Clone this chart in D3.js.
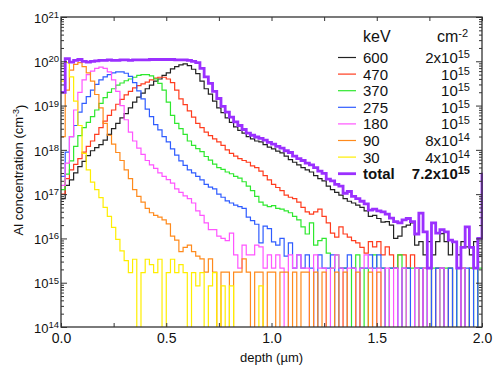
<!DOCTYPE html>
<html>
<head>
<meta charset="utf-8">
<script src="https://cdn.jsdelivr.net/npm/d3@7"></script>
<style>
  body { margin: 0; background: #fff; }
  text { font-family: "Liberation Sans", Arial, sans-serif; fill: #111; }
</style>
</head>
<body>
<svg id="chart" width="500" height="372"></svg>
<script>
// depth bins are 0.02 um wide, starting at 0; values are log10(concentration), 0 = no counts
var binWidth = 0.02;

var energies = ['600', '470', '370', '275', '180', '90', '30', 'total'];
var doseMant = ['2x', '', '', '', '', '8x', '4x', '7.2x'];
var doseExp = ['15', '15', '15', '15', '15', '14', '14', '15'];
var colors = ['#222222', '#ff3c1e', '#2ee82e', '#2f5cff', '#ff55ff', '#ff8a1c', '#ffee00', '#9b30ff'];

var s600 = [16.9,17.2,17.32,17.48,17.62,17.74,17.87,17.98,18.05,18.12,
  18.22,18.35,18.48,18.6,18.72,18.82,18.95,19.08,19.19,19.28,
  19.38,19.46,19.55,19.6,19.68,19.74,19.83,19.88,19.92,19.94,
  19.9,19.82,19.72,19.55,19.38,19.26,19.1,18.95,18.84,18.72,
  18.62,18.52,18.44,18.38,18.3,18.25,18.2,18.18,18.12,18.06,
  18.02,17.97,17.93,17.86,17.78,17.72,17.66,17.6,17.55,17.5,
  17.42,17.35,17.3,17.18,17.1,17.04,16.98,16.9,16.84,16.8,
  16.75,16.7,16.62,16.5,16.52,16.45,16.37,16.38,16.3,16.0,
  16.05,16.26,16.3,16.35,15.85,15.93,15.63,15.93,15.63,15.93,
  16.11,15.93,15.63,15.93,15.63,15.93,15.81,15.63,15.93,15.63];

var s470 = [17.0,17.35,17.55,17.67,17.8,17.95,18.08,18.2,18.35,18.5,
  18.65,18.78,18.9,19.03,19.14,19.24,19.32,19.4,19.45,19.49,
  19.53,19.58,19.62,19.64,19.64,19.6,19.52,19.35,19.15,19.02,
  18.88,18.74,18.6,18.5,18.4,18.32,18.25,18.18,18.1,18.0,
  17.92,17.86,17.8,17.76,17.72,17.64,17.6,17.52,17.42,17.32,
  17.22,17.15,17.08,16.98,16.93,16.9,16.82,16.7,16.6,16.55,
  16.6,16.66,16.5,16.35,16.12,16.03,16.26,16.1,16.03,15.95,
  15.9,15.8,15.67,15.93,15.81,15.93,15.63,15.81,15.63,15.33,
  15.63,15.63,15.33,15.63,15.33,0,15.33,15.33,0,15.33,
  15.33,0,15.33,0,0,15.33,0,15.33,15.33,0];

var s370 = [17.1,17.45,17.75,18.08,18.32,18.5,18.62,18.75,18.9,19.05,
  19.18,19.3,19.38,19.46,19.51,19.56,19.6,19.64,19.68,19.7,
  19.7,19.67,19.6,19.5,19.35,19.08,18.78,18.6,18.48,18.35,
  18.2,18.1,18.03,17.96,17.85,17.77,17.68,17.6,17.56,17.5,
  17.46,17.4,17.36,17.28,17.18,17.08,16.95,16.82,16.75,16.72,
  16.74,16.68,16.66,16.62,16.58,16.5,16.42,16.26,16.1,16.35,
  15.85,15.95,16.0,15.67,15.33,15.63,15.33,15.33,0,15.33,
  15.63,15.33,0,15.33,15.63,15.33,15.33,0,15.33,15.33,
  15.63,0,15.33,15.33,0,15.33,15.33,0,15.33,15.33,
  0,15.33,15.33,0,15.33,15.33,0,15.33,0,15.33];

var s275 = [17.4,17.95,18.3,18.55,18.85,19.05,19.2,19.35,19.48,19.58,
  19.65,19.7,19.74,19.76,19.76,19.73,19.66,19.52,19.33,19.15,
  18.92,18.75,18.57,18.45,18.3,18.18,18.02,17.88,17.75,17.65,
  17.55,17.48,17.4,17.32,17.22,17.16,17.12,17.0,16.93,16.85,
  16.8,16.75,16.72,16.68,16.48,16.4,16.32,15.9,16.28,16.22,
  15.92,15.85,16.0,15.6,15.9,15.33,15.63,15.33,15.63,15.33,
  0,15.63,15.33,15.33,15.63,0,15.33,15.33,15.63,15.33,
  0,15.33,15.33,15.63,15.33,15.63,15.33,0,15.33,15.33,
  0,15.33,15.33,0,15.33,15.33,0,15.33,0,15.33,
  15.33,0,15.33,0,15.33,0,15.33,0,15.33,0];

var s180 = [17.2,17.7,18.3,18.9,19.3,19.58,19.7,19.78,19.84,19.87,
  19.84,19.76,19.58,19.32,19.0,18.68,18.4,18.2,18.04,17.9,
  17.76,17.66,17.58,17.48,17.4,17.33,17.25,17.12,17.04,16.96,
  16.9,16.8,16.62,16.52,16.35,16.2,16.2,16.05,16.0,15.95,
  16.12,15.63,15.33,15.85,15.63,15.63,15.85,15.81,15.33,15.63,
  15.33,15.63,15.33,0,15.63,15.33,15.63,15.33,15.33,0,
  15.63,15.33,15.33,0,15.33,15.63,15.33,0,15.33,15.33,
  0,15.33,15.63,15.33,0,15.33,0,15.33,0,15.33,
  0,15.33,0,0,15.33,0,15.33,0,0,0,
  15.33,0,0,0,0,15.33,0,0,0,0];

var s90 = [18.3,19.35,19.8,19.93,19.97,19.88,19.74,19.55,19.25,18.95,
  18.6,18.33,18.13,17.94,17.76,17.55,17.35,17.1,16.95,16.82,
  16.68,16.58,16.52,16.48,16.42,16.33,16.05,15.96,15.7,15.8,
  15.85,15.7,15.6,15.54,15.24,15.54,15.24,0,15.24,15.24,
  0,15.24,15.24,15.54,15.24,0,15.24,15.24,0,15.24,
  15.24,0,15.24,15.24,0,15.24,0,15.24,15.24,0,
  15.24,0,15.24,0,0,15.24,0,15.24,0,0,
  15.24,0,0,15.24,0,15.24,0,0,0,0,
  0,0,0,0,0,0,0,0,0,0,
  0,0,0,0,0,0,0,0,0,0];

var s30 = [19.55,19.97,19.65,19.1,18.55,17.92,17.55,17.27,17.1,16.92,
  16.7,16.5,16.25,15.98,15.72,15.5,15.23,15.53,0,15.23,
  15.53,15.41,15.23,15.53,0,15.23,15.53,15.23,15.41,15.23,
  0,15.23,14.93,15.23,0,14.93,15.23,0,14.93,0,
  14.93,0,0,0,0,0,0,14.93,0,0,
  0,0,0,0,0,0,0,0,0,0,
  0,0,0,0,0,0,0,0,0,0,
  0,0,0,0,0,0,0,0,0,0,
  0,0,0,0,0,0,0,0,0,0,
  0,0,0,0,0,0,0,0,0,0];

// the total has one extra bin just past 2.0 um (edge spike at the frame)
var sTotal = [19.3,20.06,19.98,20.02,20.04,20.0,19.98,20.0,20.01,20.02,
  20.02,20.03,20.02,20.02,20.03,20.03,20.02,20.03,20.03,20.03,
  20.03,20.04,20.04,20.04,20.04,20.04,20.04,20.03,20.03,20.03,
  20.02,20.0,19.97,19.84,19.65,19.5,19.32,19.16,18.98,18.85,
  18.74,18.63,18.55,18.46,18.38,18.33,18.29,18.26,18.22,18.17,
  18.13,18.08,18.04,17.98,17.94,17.86,17.8,17.76,17.7,17.66,
  17.6,17.52,17.47,17.34,17.3,17.22,17.18,17.02,17.06,16.95,
  16.9,16.84,16.78,16.64,16.66,16.62,16.6,16.55,16.46,16.38,
  16.35,16.42,16.45,16.38,16.1,16.57,16.15,15.33,16.35,16.12,
  16.2,16.15,15.96,15.92,15.33,15.8,16.26,15.8,15.33,16.0,
  17.45];

var series = [s600, s470, s370, s275, s180, s90, s30, sTotal];

var svg = d3.select('#chart');
var plotL = 61, plotR = 482, plotT = 17, plotB = 327;

var x = d3.scaleLinear().domain([0, 2]).range([plotL, plotR]);
var y = d3.scaleLog().domain([1e14, 1e21]).range([plotB, plotT]);

svg.append('defs').append('clipPath').attr('id', 'plotclip')
  .append('rect')
  .attr('x', plotL).attr('y', plotT)
  .attr('width', plotR - plotL + 1).attr('height', plotB - plotT);

var line = d3.line()
  .x(function(d) { return x(d[0]); })
  .y(function(d) { return y(d[1] > 0 ? Math.pow(10, d[1]) : 1e13); })
  .curve(d3.curveStepAfter);

var stepPoints = function(vals) {
  var pts = vals.map(function(v, i) { return [i * binWidth, v]; });
  pts.push([vals.length * binWidth, vals[vals.length - 1]]);
  return pts;
};

var plot = svg.append('g').attr('clip-path', 'url(#plotclip)');
series.forEach(function(vals, i) {
  plot.append('path')
    .attr('d', line(stepPoints(vals)))
    .attr('fill', 'none')
    .attr('stroke', colors[i])
    .attr('stroke-width', i === 7 ? 2.8 : 1.2)
    .attr('stroke-linejoin', 'miter');
});

// axes
var majorY = d3.range(14, 22).map(function(e) { return Math.pow(10, e); });
var minorY = [];
d3.range(14, 21).forEach(function(e) {
  for (var m = 2; m <= 9; ++m) minorY.push(m * Math.pow(10, e));
});
var majorX = [0, 0.5, 1.0, 1.5, 2.0];
var minorX = [0.25, 0.75, 1.25, 1.75];

var axisStyle = function(g) {
  g.select('.domain').remove();
  g.selectAll('.tick line').attr('stroke', '#333').attr('stroke-width', 1);
};

var yLeft = svg.append('g').attr('transform', 'translate(' + plotL + ',0)')
  .call(d3.axisLeft(y).tickValues(majorY).tickSize(-6).tickPadding(2).tickFormat(''))
  .call(axisStyle);
yLeft.selectAll('.tick text').each(function(d) {
  var t = d3.select(this).attr('font-size', 13).attr('dy', '0.4em');
  t.append('tspan').text('10');
  t.append('tspan').attr('dy', '-0.5em').attr('font-size', 9.5).text(Math.round(Math.log10(d)));
});
svg.append('g').attr('transform', 'translate(' + plotL + ',0)')
  .call(d3.axisLeft(y).tickValues(minorY).tickSize(-3).tickFormat(''))
  .call(axisStyle);
svg.append('g').attr('transform', 'translate(' + plotR + ',0)')
  .call(d3.axisRight(y).tickValues(majorY).tickSize(-6).tickFormat(''))
  .call(axisStyle);
svg.append('g').attr('transform', 'translate(' + plotR + ',0)')
  .call(d3.axisRight(y).tickValues(minorY).tickSize(-3).tickFormat(''))
  .call(axisStyle);

svg.append('g').attr('transform', 'translate(0,' + plotB + ')')
  .call(d3.axisBottom(x).tickValues(majorX).tickSize(-4).tickPadding(6).tickFormat(d3.format('.1f')))
  .call(axisStyle)
  .selectAll('.tick text').attr('font-size', 14).attr('fill', '#111');
svg.append('g').attr('transform', 'translate(0,' + plotB + ')')
  .call(d3.axisBottom(x).tickValues(minorX).tickSize(-4).tickFormat(''))
  .call(axisStyle);
svg.append('g').attr('transform', 'translate(0,' + plotT + ')')
  .call(d3.axisTop(x).tickValues(majorX.concat(minorX)).tickSize(-4).tickFormat(''))
  .call(axisStyle);

svg.append('rect')
  .attr('x', plotL).attr('y', plotT)
  .attr('width', plotR - plotL).attr('height', plotB - plotT)
  .attr('fill', 'none').attr('stroke', '#333').attr('stroke-width', 1.3);

// axis titles
svg.append('text')
  .attr('x', (plotL + plotR) / 2).attr('y', 362)
  .attr('text-anchor', 'middle').attr('font-size', 13)
  .text('depth (\u00b5m)');

var yt = svg.append('text')
  .attr('transform', 'translate(23,170) rotate(-90)')
  .attr('text-anchor', 'middle').attr('font-size', 13);
yt.append('tspan').text('Al concentration (cm');
yt.append('tspan').attr('dy', '-0.45em').attr('font-size', 9).text('-3');
yt.append('tspan').attr('dy', '0.45em').text(')');

// legend
var legend = svg.append('g');
legend.append('text').attr('x', 363).attr('y', 42).attr('font-size', 16).text('keV');
var cmHead = legend.append('text').attr('x', 468).attr('y', 42).attr('text-anchor', 'end').attr('font-size', 16);
cmHead.append('tspan').text('cm');
cmHead.append('tspan').attr('dy', '-0.5em').attr('font-size', 11).text('-2');

energies.forEach(function(e, i) {
  var cy = 57.5 + i * 16.6;
  var bold = i === 7 ? 'bold' : 'normal';
  legend.append('line')
    .attr('x1', 338).attr('x2', 356).attr('y1', cy).attr('y2', cy)
    .attr('stroke', colors[i]).attr('stroke-width', i === 7 ? 2.8 : 1.2);
  legend.append('text').attr('x', 363).attr('y', cy + 5.5)
    .attr('font-size', 15).attr('font-weight', bold).text(e);
  var t = legend.append('text').attr('x', 470).attr('y', cy + 5.5)
    .attr('text-anchor', 'end').attr('font-size', 15).attr('font-weight', bold);
  t.append('tspan').text(doseMant[i] + '10');
  t.append('tspan').attr('dy', '-0.45em').attr('font-size', 11).text(doseExp[i]);
});
</script>
</body>
</html>
